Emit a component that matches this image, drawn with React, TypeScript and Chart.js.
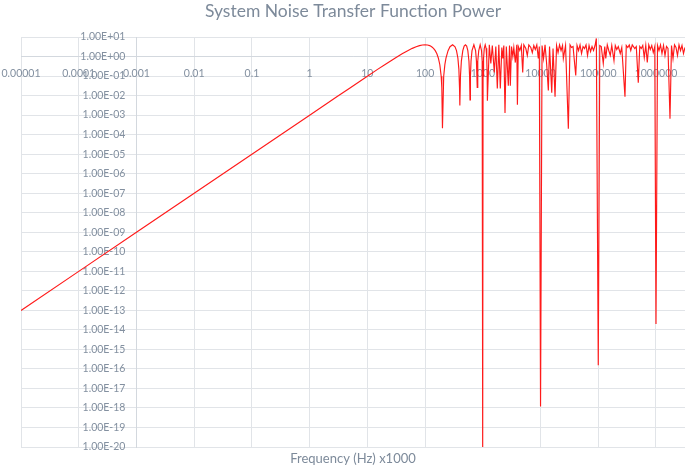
import React, { useEffect, useRef } from 'react';
import { Chart, registerables } from 'chart.js';

Chart.register(...registerables);

// ---- tick labels ----
const xTickValues = [0.00001, 0.0001, 0.001, 0.01, 0.1, 1, 10, 100, 1000, 10000, 100000, 1000000];
const xTickLabels = ['0.00001', '0.0001', '0.001', '0.01', '0.1', '1', '10', '100', '1000', '10000', '100000', '1000000'];
const yTickValues = [1e1, 1e0, 1e-1, 1e-2, 1e-3, 1e-4, 1e-5, 1e-6, 1e-7, 1e-8, 1e-9, 1e-10, 1e-11, 1e-12, 1e-13, 1e-14, 1e-15, 1e-16, 1e-17, 1e-18, 1e-19, 1e-20];
const yTickLabels = ['1.00E+01', '1.00E+00', '1.00E-01', '1.00E-02', '1.00E-03', '1.00E-04', '1.00E-05', '1.00E-06', '1.00E-07', '1.00E-08', '1.00E-09', '1.00E-10', '1.00E-11', '1.00E-12', '1.00E-13', '1.00E-14', '1.00E-15', '1.00E-16', '1.00E-17', '1.00E-18', '1.00E-19', '1.00E-20'];

// axis crossings
const xAxisCrossesAtY = 1;
const yAxisCrossesAtX = 0.001;
const xMin = 0.00001;
const xMax = 3180000;
const yMin = 1e-20;
const yMax = 10;

// ---- series: frequency (Hz x1000) and power ----
const lowFreq = [0.00001, 0.0001, 0.001, 0.01, 0.1, 1, 3, 5, 10, 15, 20, 30, 40, 50, 60, 70, 80, 90, 100, 110, 120, 130, 140, 150, 160, 170, 180, 190, 195, 200];
const lowPower = [9.9e-14, 9.9e-12, 9.9e-10, 9.9e-8, 9.9e-6, 9.9e-4, 8.9e-3, 0.0246, 0.098, 0.22, 0.38, 0.82, 1.38, 2.0, 2.62, 3.16, 3.62, 3.9, 4.0, 3.9, 3.62, 3.16, 2.62, 2.0, 1.38, 0.82, 0.38, 0.098, 0.025, 2.1e-4];

const midFreq = [210, 220, 230, 250, 270, 300, 330, 350, 370, 385, 395, 400,
  410, 425, 450, 475, 500, 525, 550, 575, 590, 600,
  610, 625, 650, 700, 750, 775, 790, 800,
  810, 825, 850, 900, 950, 975, 990, 1000,
  1010, 1030, 1060, 1100, 1140, 1170, 1190, 1200];
const midPower = [0.098, 0.382, 0.824, 2.0, 3.176, 4.0, 3.176, 2.0, 0.824, 0.218, 0.0247, 0.0031,
  0.098, 0.586, 2.0, 3.414, 4.0, 3.414, 2.0, 0.586, 0.098, 0.006,
  0.098, 0.586, 2.0, 4.0, 2.0, 0.586, 0.098, 0.026,
  0.098, 0.586, 2.0, 4.0, 2.0, 0.586, 0.098, 1e-20,
  0.098, 0.824, 2.618, 4.0, 2.618, 0.824, 0.098, 0.0055];

const freqK = [1296, 1376, 1461, 1582, 1680, 1783, 1894, 2010, 2134, 2221, 2311, 2424, 2553, 2765, 2901, 2995, 3142, 3309, 3443, 3656, 3880, 3974, 4120, 4375, 4645, 4912, 5132, 5559, 5900, 6264, 6785, 7202, 7643, 8116, 8617, 9150, 9522, 10000];
const powerK = [3.95, 0.44, 3.67, 0.151, 3.26, 0.023, 3.95, 0.023, 2.9, 0.79, 3.67, 0.0013, 3.26, 0.032, 3.67, 0.032, 3.26, 1.0, 2.9, 0.49, 3.95, 0.0034, 3.26, 2.03, 3.67, 0.151, 3.95, 2.57, 1.13, 3.95, 2.9, 1.6, 3.67, 2.29, 3.95, 0.79, 3.26, 1.2e-18];

const freq10K = [10620, 11270, 11970, 12700, 13650, 14320, 15630, 16460, 17830, 18940, 20100, 21340, 22660, 24050, 24830, 27110, 30310, 32430, 34430, 36560, 40710, 42890, 45530, 48340, 51320, 54490, 57830, 61400, 65200, 69210, 73470, 77980, 82810, 87900, 92600, 100000];
const power10K = [3.67, 0.79, 3.95, 0.49, 0.018, 3.26, 0.014, 2.57, 0.0088, 3.67, 1.6, 3.95, 2.03, 3.67, 0.79, 3.67, 2.0e-4, 3.95, 2.9, 3.26, 0.106, 3.67, 2.03, 3.95, 1.43, 3.26, 2.57, 3.95, 1.13, 3.67, 1.81, 3.26, 2.03, 3.67, 8.4, 1.55e-16];

const freq100K = [106200, 112700, 122100, 129600, 134900, 143200, 152000, 161400, 171300, 187100, 197100, 209200, 222100, 240500, 255300, 290100, 305500, 324300, 344300, 365600, 388000, 428900, 455300, 493200, 523600, 555900, 590000, 626400, 665100, 706200, 749500, 795500, 844600, 896800, 952200, 1000000];
const power100K = [3.67, 3.26, 0.44, 3.26, 0.79, 3.95, 2.03, 1.13, 3.67, 0.62, 3.67, 2.29, 3.26, 1.43, 2.9, 0.0088, 3.67, 2.9, 3.95, 2.03, 3.95, 2.57, 3.26, 0.046, 3.26, 2.57, 3.67, 0.89, 3.67, 0.49, 3.95, 2.29, 3.67, 1.6, 3.26, 2.0e-14];

const freq1M = [1062000, 1127000, 1197000, 1270000, 1349000, 1432000, 1520000, 1614000, 1748000, 1856000, 1971000, 2092000, 2221000, 2357000, 2503000, 2657000, 2821000, 2995000, 3180000];
const power1M = [3.67, 2.03, 3.95, 1.43, 3.67, 1.13, 3.26, 2.57, 6.6e-4, 3.67, 0.79, 3.95, 2.9, 1.13, 3.95, 2.03, 3.67, 1.43, 2.9];

const FONT = 'Lato, "Open Sans", sans-serif';
const TITLE_COLOR = '#7d8a9a';
const TICK_COLOR = '#8390a0';
const GRID_COLOR = '#e1e4e8';
const AXIS_COLOR = '#d3d8de';

export default function App() {
  const ref = useRef<HTMLCanvasElement>(null);

  useEffect(() => {
    const canvas = ref.current;
    if (!canvas) return;
    const freq = [...lowFreq, ...midFreq, ...freqK, ...freq10K, ...freq100K, ...freq1M];
    const power = [...lowPower, ...midPower, ...powerK, ...power10K, ...power100K, ...power1M];
    const points = freq.map((f, i) => ({ x: f, y: power[i] }));

    const axisLabels = {
      id: 'axisLabels',
      beforeDatasetsDraw(chart: any) {
        const { ctx } = chart;
        const xs = chart.scales.x;
        const ys = chart.scales.y;
        const axisX = xs.getPixelForValue(yAxisCrossesAtX);
        const axisY = ys.getPixelForValue(xAxisCrossesAtY);
        ctx.save();
        ctx.fillStyle = TICK_COLOR;
        ctx.font = `10.5px ${FONT}`;
        ctx.textBaseline = 'middle';
        ctx.textAlign = 'center';
        xTickValues.forEach((v, i) => ctx.fillText(xTickLabels[i], xs.getPixelForValue(v), axisY + 17));
        ctx.textAlign = 'right';
        yTickValues.forEach((v, i) => ctx.fillText(yTickLabels[i], axisX - 11, ys.getPixelForValue(v)));
        ctx.restore();
      },
    };

    const chart = new Chart(canvas, {
      type: 'scatter',
      data: {
        datasets: [
          {
            data: points,
            showLine: true,
            borderColor: '#ff1a1a',
            backgroundColor: '#ff1a1a',
            borderWidth: 1.15,
            pointRadius: 0,
            pointHoverRadius: 0,
            tension: 0,
          },
        ],
      },
      options: {
        responsive: false,
        animation: false,
        events: [],
        layout: { padding: { left: 21, right: 0, top: 0, bottom: 0 } },
        plugins: {
          legend: { display: false },
          tooltip: { enabled: false },
          title: {
            display: true,
            text: 'System Noise Transfer Function Power',
            color: TITLE_COLOR,
            font: { family: FONT, size: 17.5, weight: 'normal' },
            padding: { top: 1, bottom: 15 },
          },
          subtitle: {
            display: true,
            position: 'bottom',
            text: 'Frequency (Hz) x1000',
            color: TITLE_COLOR,
            font: { family: FONT, size: 13, weight: 'normal' },
            padding: { top: 4, bottom: 0.4 },
          },
        },
        scales: {
          x: {
            type: 'logarithmic',
            axis: 'x',
            min: xMin,
            max: xMax,
            bounds: 'data',
            position: { y: xAxisCrossesAtY },
            afterBuildTicks: (s: any) => {
              s.ticks = xTickValues.map((v) => ({ value: v }));
            },
            ticks: { display: false },
            grid: { color: GRID_COLOR, drawTicks: false, lineWidth: 1 },
            border: { color: AXIS_COLOR, width: 1 },
          },
          y: {
            type: 'logarithmic',
            axis: 'y',
            min: yMin,
            max: yMax,
            bounds: 'data',
            position: { x: yAxisCrossesAtX },
            afterBuildTicks: (s: any) => {
              s.ticks = yTickValues.map((v) => ({ value: v }));
            },
            ticks: { display: false },
            grid: { color: GRID_COLOR, drawTicks: false, lineWidth: 1 },
            border: { color: AXIS_COLOR, width: 1 },
          },
        },
      } as any,
      plugins: [axisLabels],
    });
    return () => chart.destroy();
  }, []);

  return (
    <div style={{ position: 'fixed', left: 0, top: 0, width: 685, height: 467, background: '#ffffff' }}>
      <canvas ref={ref} width={685} height={467} style={{ display: 'block' }} />
    </div>
  );
}
